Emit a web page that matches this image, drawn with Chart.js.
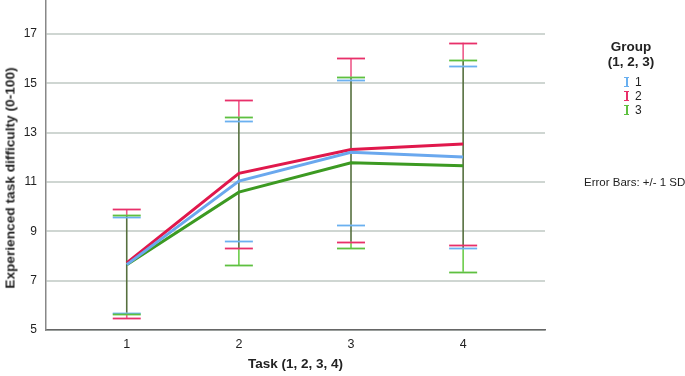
<!DOCTYPE html>
<html>
<head>
<meta charset="utf-8">
<script src="https://cdn.jsdelivr.net/npm/chart.js@4/dist/chart.umd.min.js"></script>
<style>
  body { margin: 0; background: #fff; font-family: "Liberation Sans", Arial, sans-serif; }
  #wrap { position: relative; width: 685px; height: 376px; }
  #yTitle { position: absolute; left: 10px; top: 178px; transform: translate(-50%, -50%) rotate(-90deg);
            white-space: nowrap; font-weight: bold; font-size: 13.7px; color: #222; }
  .leg { position: absolute; font-size: 12px; color: #222; white-space: nowrap; }
  .legTitle { font-weight: bold; font-size: 13.5px; text-align: center; transform: translateX(-50%); line-height: 15px; }
  .icon { display: inline-block; width: 5px; height: 8px; border-top: 1.5px solid; border-bottom: 1.5px solid;
          vertical-align: -1px; margin-right: 6px; position: relative; }
  .icon::after { content: ""; position: absolute; left: 2px; top: 0; width: 1.5px; height: 8px; background: currentColor; }
</style>
</head>
<body>
<div id="wrap">
  <canvas id="myChart" width="685" height="376"></canvas>
  <div id="yTitle">Experienced task difficulty (0-100)</div>
  <div class="leg legTitle" style="left:631px; top:39px;">Group<br>(1, 2, 3)</div>
  <div class="leg" style="left:624px; top:75px;"><span class="icon" style="color:#6ab0f0"></span>1</div>
  <div class="leg" style="left:624px; top:89px;"><span class="icon" style="color:#e8306a"></span>2</div>
  <div class="leg" style="left:624px; top:103px;"><span class="icon" style="color:#5ec040"></span>3</div>
  <div class="leg" style="left:584px; top:176px; font-size:11.5px;">Error Bars: +/- 1 SD</div>
</div>
<script>
// Data
const tasks = [1, 2, 3, 4];
const yTicks = [5, 7, 9, 11, 13, 15, 17];
const groupNames = ['1', '2', '3'];

const group1Mean = [7.65, 11.04, 12.21, 12.01];
const group2Mean = [7.72, 11.35, 12.32, 12.54];
const group3Mean = [7.65, 10.59, 11.78, 11.66];

const group1Lo = [5.70, 8.60, 9.27, 8.32];
const group1Hi = [9.57, 13.47, 15.15, 15.71];
const group2Lo = [5.49, 8.31, 8.58, 8.45];
const group2Hi = [9.90, 14.32, 16.03, 16.65];
const group3Lo = [5.64, 7.62, 8.31, 7.36];
const group3Hi = [9.66, 13.65, 15.27, 15.95];

const lineColors = ['#6aa8ee', '#e0184c', '#3c9a22'];
const capColors = ['#6ab0f0', '#e8306a', '#5ec040'];
const stemColors = ['#8cc0f0', '#ee5a8a', '#6ccc4a'];
const overlapColor = '#56703f';

const means = [group1Mean, group2Mean, group3Mean];
const lows = [group1Lo, group2Lo, group3Lo];
const highs = [group1Hi, group2Hi, group3Hi];

function toPoints(arr) {
    return tasks.map((t, i) => ({x: t, y: arr[i]}));
}

// draws the +/- 1 SD bars under the lines
const errorBars = {
    id: 'errorBars',
    beforeDatasetsDraw(chart) {
        const ctx = chart.ctx;
        const xs = chart.scales.x, ys = chart.scales.y;
        ctx.save();
        tasks.forEach((t, i) => {
            const px = xs.getPixelForValue(t);
            // stem: single colour where one bar, olive where they overlap
            let ends = [];
            for (let g = 0; g < 3; g++) { ends.push(lows[g][i], highs[g][i]); }
            ends.sort((a, b) => a - b);
            ctx.lineWidth = 1.6;
            for (let k = 0; k < ends.length - 1; k++) {
                const a = ends[k], b = ends[k + 1];
                if (b - a < 1e-6) continue;
                const mid = (a + b) / 2;
                const cover = [];
                for (let g = 0; g < 3; g++) {
                    if (lows[g][i] <= mid && highs[g][i] >= mid) cover.push(g);
                }
                if (!cover.length) continue;
                ctx.strokeStyle = cover.length === 1 ? stemColors[cover[0]] : overlapColor;
                ctx.beginPath();
                ctx.moveTo(px, ys.getPixelForValue(a));
                ctx.lineTo(px, ys.getPixelForValue(b));
                ctx.stroke();
            }
            // caps
            ctx.lineWidth = 1.8;
            for (let g = 0; g < 3; g++) {
                ctx.strokeStyle = capColors[g];
                [lows[g][i], highs[g][i]].forEach(v => {
                    const py = Math.round(ys.getPixelForValue(v)) + 0.5;
                    ctx.beginPath();
                    ctx.moveTo(px - 14, py);
                    ctx.lineTo(px + 14, py);
                    ctx.stroke();
                });
            }
        });
        ctx.restore();
    }
};

const ctx = document.getElementById('myChart').getContext('2d');
const chart = new Chart(ctx, {
    type: 'line',
    data: {
        datasets: means.map((m, g) => ({
            label: groupNames[g],
            data: toPoints(m),
            borderColor: lineColors[g],
            borderWidth: 3,
            pointRadius: 0,
            tension: 0,
            fill: false
        }))
    },
    options: {
        responsive: false,
        animation: false,
        layout: { padding: { left: 0, right: 140, top: 0, bottom: 0 } },
        plugins: { legend: { display: false }, tooltip: { enabled: false } },
        scales: {
            x: {
                type: 'linear',
                min: 0.28,
                max: 4.73,
                afterBuildTicks: s => { s.ticks = tasks.map(v => ({value: v})); },
                afterFit: s => { s.height = 46; s.paddingLeft = 0; s.paddingRight = 0; },
                grid: { display: false, drawTicks: false },
                border: { color: '#666', width: 1.5 },
                ticks: { padding: 7, color: '#222', font: { family: 'Liberation Sans', size: 12.5 } },
                title: { display: true, text: 'Task (1, 2, 3, 4)', color: '#222',
                         font: { family: 'Liberation Sans', size: 13.5, weight: 'bold' } }
            },
            y: {
                min: 5,
                max: 18.38,
                afterBuildTicks: s => { s.ticks = yTicks.map(v => ({value: v})); },
                afterFit: s => { s.width = 46; s.paddingTop = 0; s.paddingBottom = 0; },
                grid: { color: '#cfd6d2', lineWidth: 2, drawTicks: false },
                border: { color: '#888', width: 1.5 },
                ticks: { padding: 9, color: '#222', font: { family: 'Liberation Sans', size: 12 } }
            }
        }
    },
    plugins: [errorBars]
});
</script>
</body>
</html>
